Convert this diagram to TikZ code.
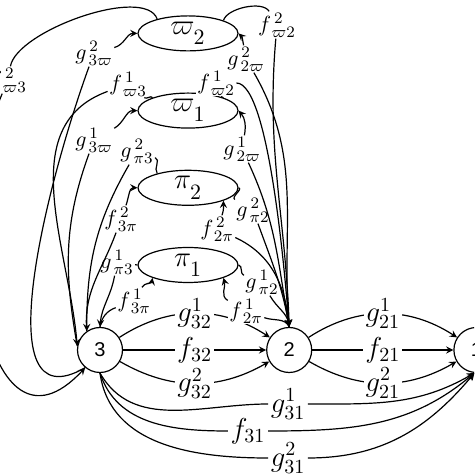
\documentclass[tikz,border=0pt]{standalone}
\usepackage{amsmath}
\usepackage{fontspec}
\newfontfamily\statefont{Liberation Sans}
\usetikzlibrary{positioning,shapes.geometric}
\newcommand{\orbitsub}[2]{#1_{\lower3pt\hbox{$\scriptstyle #2$}}}
\tikzset{state node/.style={circle,draw,minimum size=22.5pt,inner sep=0pt,font=\statefont\fontsize{10}{12}\selectfont},
orbit node/.style={ellipse,draw,minimum width=50pt,minimum height=17.5pt,inner sep=0pt,font=\fontsize{15}{17}\selectfont},
big label/.style={fill=white,inner sep=1pt,font=\fontsize{14}{16}\selectfont},
small label/.style={fill=white,inner sep=0.5pt,font=\fontsize{11}{13}\selectfont},}

\begin{document}
\begin{tikzpicture}[x=1pt,y=1pt,semithick,>=stealth]
       \useasboundingbox (-50,-62) rectangle (187,175);
       \clip (-50,-62) rectangle (187,175);

       \node[state node] (3) at (0,0) {3};
       \node[state node] (2) [right = 71.5pt of 3] {2};
       \node[state node] (1) [right = 70.5pt of 2] {1};

       \node[orbit node] (p1) at (44,42.5) {$\orbitsub{\pi}{1}$};
       \node[orbit node] (p2) [above = 20.5pt of p1] {$\orbitsub{\pi}{2}$};
       \node[orbit node] (w1) [above = 20.5pt of p2] {$\orbitsub{\varpi}{1}$};
       \node[orbit node] (w2) [above = 20.5pt of w1] {$\orbitsub{\varpi}{2}$};

       % state to state
       \draw [->,bend left=33] (3) to node[big label] {$g^1_{32}$} (2);
       \draw [->] (3) to node[big label] {$f_{32}$} (2);
       \draw [->,bend right=30] (3) to node[big label] {$g^2_{32}$} (2);
       \draw [->,bend left=33] (2) to node[big label] {$g^1_{21}$} (1);
       \draw [->] (2) to node[big label] {$f_{21}$} (1);
       \draw [->,bend right=30] (2) to node[big label] {$g^2_{21}$} (1);

       \node[big label] (g31a) at (94,-27) {$g^1_{31}$};
       \node[big label] (f31) at (74,-40.5) {$f_{31}$};
       \node[big label] (g31b) at (94,-54) {$g^2_{31}$};
       \draw [->] (3.south) to[out=-60,in=180] (g31a) to[out=0,in=-150] (1.-95);
       \draw [->] (3.south) to[out=-72,in=180] (f31) to[out=0,in=-140] (1.-95);
       \draw [->] (3.south) to[out=-82,in=180] (g31b) to[out=0,in=-130] (1.-95);

       % labels of the orbit links
       \node[small label] (g3w2) at (-3,148.5) {$g^{\,2}_{\,3\varpi}$};
       \node[small label] (fw23) at (-46,135) {$f^{\,2}_{\,\varpi 3}$};
       \node[small label] (fw13) at (14,133) {$f^{\,1}_{\,\varpi 3}$};
       \node[small label] (fw12) at (58,133.5) {$f^{\,1}_{\,\varpi 2}$};
       \node[small label] (g2w2) at (73,145.5) {$g^{\,2}_{\,2\varpi}$};
       \node[small label] (fw22) at (88.5,162.5) {$f^{\,2}_{\,\varpi 2}$};
       \node[small label] (g3w1) at (-3,105) {$g^{\,1}_{\,3\varpi}$};
       \node[small label] (gp23) at (18.5,99.5) {$g^{\,2}_{\,\pi 3}$};
       \node[small label] (g2w1) at (71,100.5) {$g^{\,1}_{\,2\varpi}$};
       \node[small label] (f3p2) at (10.5,65.5) {$f^{\,2}_{\,3\pi}$};
       \node[small label] (gp22) at (76.5,70) {$g^{\,2}_{\,\pi 2}$};
       \node[small label] (f2p2) at (58.5,60.5) {$f^{\,2}_{\,2\pi}$};
       \node[small label] (gp13) at (8.5,44) {$g^{\,1}_{\,\pi 3}$};
       \node[small label] (gp12) at (81,34) {$g^{\,1}_{\,\pi 2}$};
       \node[small label] (f3p1) at (17,24.5) {$f^{\,1}_{\,3\pi}$};
       \node[small label] (f2p1) at (73,19.5) {$f^{\,1}_{\,2\pi}$};

       % state 3 and the orbits
       \draw [->] (3.-130) to[out=210,in=-110] (g3w2) to[out=15,in=180] (w2.west);
       \draw [->] (w2.155) to[out=110,in=80,looseness=0.6] (fw23) to[out=-113,in=227,looseness=1.3] (3.-130);
       \draw [->] (w1.160) to[out=120,in=-40] (fw13) to[out=200,in=95] (3.170);
       \draw [->] (3.170) to[out=100,in=-110] (g3w1) to[out=30,in=180] (w1.west);
       \draw [->] (p2.155) to[out=130,in=-20] (gp23) to[out=240,in=90] (3.125);
       \draw [->] (3.125) to[out=95,in=-110] (f3p2) to[out=70,in=180] (p2.west);
       \draw [->] (p1.west) to (gp13) to[out=-100,in=85] (3.north);
       \draw [->] (3.north) to[out=80,in=200] (f3p1) to[out=60,in=-100] (p1.200);

       % state 2 and the orbits
       \draw [->] (w2.20) to[out=75,in=120,looseness=0.7] (fw22) to[out=-95,in=92] (2.north);
       \draw [->] (2.north) to[out=95,in=-60] (g2w2) to[out=100,in=-45] (w2.east);
       \draw [->] (w1.20) to[out=80,in=-70] (fw12) to[out=0,in=95,looseness=0.35] (2.north);
       \draw [->] (2.north) to[out=100,in=-65] (g2w1) to[out=80,in=-50] (w1.east);
       \draw [->] (p2.east) to[out=-15,in=150] (gp22) to[out=-70,in=100] (2.north);
       \draw [->] (2.north) to[out=95,in=-25] (f2p2) to[out=70,in=-90] (p2.-20);
       \draw [->] (p1.east) to[out=-10,in=160] (gp12) to[out=-60,in=100] (2.north);
       \draw [->] (2.north) to[out=115,in=-20] (f2p1) to[out=150,in=-75] (p1.-20);
\end{tikzpicture}
\end{document}
